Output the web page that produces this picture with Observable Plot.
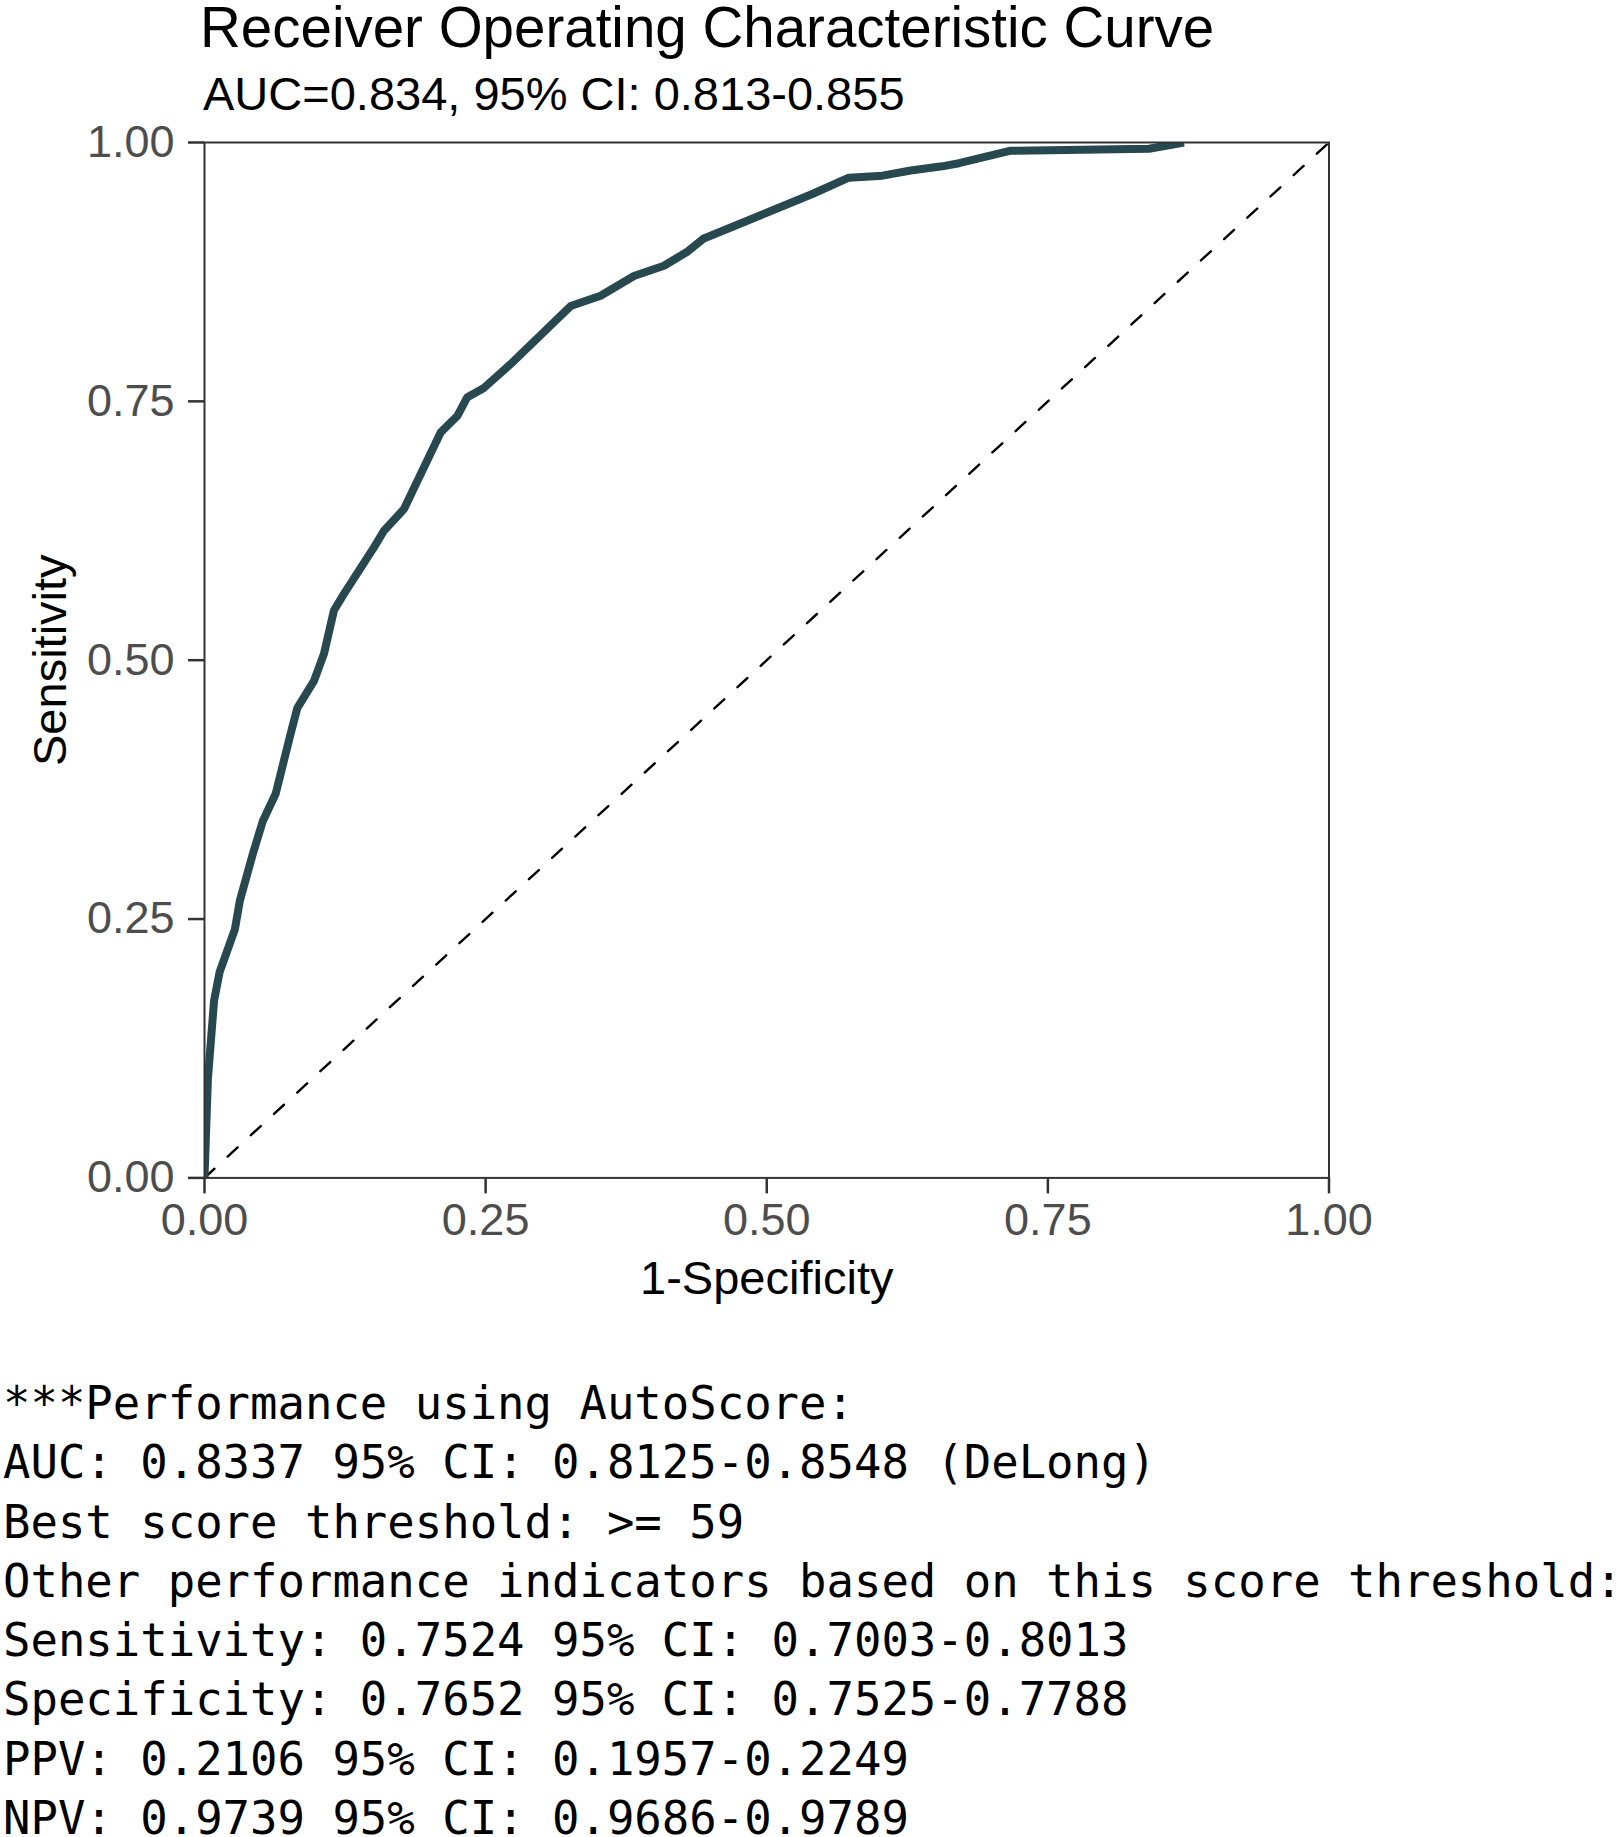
<!DOCTYPE html>
<html><head><meta charset="utf-8">
<script src="https://cdn.jsdelivr.net/npm/d3@7"></script>
<script src="https://cdn.jsdelivr.net/npm/@observablehq/plot@0.6"></script>
<style>
html,body{margin:0;padding:0;background:#fff;}
#wrap{position:relative;width:1619px;height:1837px;overflow:hidden;background:#fff;}
.t{position:absolute;font-family:"Liberation Sans",Arial,sans-serif;line-height:1.15;white-space:nowrap;color:#000;}
#title{left:200px;top:-4px;font-size:56.5px;}
#sub{left:203px;top:66.5px;font-size:47px;}
#chart{position:absolute;left:0;top:0;}
#out{position:absolute;left:3px;top:1374px;margin:0;font-family:"DejaVu Sans Mono",monospace;font-size:45.6px;line-height:59.3px;color:#000;white-space:pre;}
</style>
</head>
<body>
<div id="wrap">
  <div id="chart"></div>
  <div class="t" id="title"></div>
  <div class="t" id="sub"></div>
  <pre id="out"></pre>
</div>
<script>
const titleText = "Receiver Operating Characteristic Curve";
const subtitleText = "AUC=0.834, 95% CI: 0.813-0.855";
const xLabel = "1-Specificity";
const yLabel = "Sensitivity";
const xTicks = [0, 0.25, 0.5, 0.75, 1];
const yTicks = [0, 0.25, 0.5, 0.75, 1];
// ROC curve: 1-specificity (fpr) and sensitivity (tpr)
const fpr = [0, 0.003, 0.0085, 0.0135, 0.027, 0.0315, 0.043, 0.052, 0.0633, 0.0766, 0.0826, 0.0974, 0.1062, 0.1151, 0.124, 0.1507, 0.1596, 0.1774, 0.210, 0.2249, 0.2337, 0.2485, 0.2752, 0.3256, 0.3523, 0.3819, 0.4086, 0.430, 0.4435, 0.540, 0.573, 0.603, 0.628, 0.656, 0.671, 0.716, 0.840, 0.871];
const tpr = [0, 0.095, 0.171, 0.199, 0.240, 0.268, 0.313, 0.345, 0.371, 0.429, 0.454, 0.480, 0.506, 0.548, 0.564, 0.609, 0.625, 0.646, 0.720, 0.736, 0.754, 0.763, 0.789, 0.842, 0.852, 0.871, 0.881, 0.895, 0.907, 0.950, 0.966, 0.968, 0.973, 0.977, 0.980, 0.992, 0.994, 1.0];
const refX = [0, 1];
const refY = [0, 1];
const outputLines = [
  "***Performance using AutoScore:",
  "AUC: 0.8337 95% CI: 0.8125-0.8548 (DeLong)",
  "Best score threshold: >= 59",
  "Other performance indicators based on this score threshold:",
  "Sensitivity: 0.7524 95% CI: 0.7003-0.8013",
  "Specificity: 0.7652 95% CI: 0.7525-0.7788",
  "PPV: 0.2106 95% CI: 0.1957-0.2249",
  "NPV: 0.9739 95% CI: 0.9686-0.9789"
];

document.getElementById("title").textContent = titleText;
document.getElementById("sub").textContent = subtitleText;
document.getElementById("out").textContent = outputLines.join("\n");

const roc = fpr.map((x, i) => ({fpr: x, tpr: tpr[i]}));
const ref = refX.map((x, i) => ({x, y: refY[i]}));

const chart = Plot.plot({
  width: 1619,
  height: 1310,
  marginLeft: 204,
  marginRight: 290.5,
  marginTop: 142,
  marginBottom: 132.6,
  style: {fontFamily: '"Liberation Sans", Arial, sans-serif', fontSize: "45px", background: "transparent", overflow: "visible"},
  x: {domain: [0, 1]},
  y: {domain: [0, 1]},
  marks: [
    Plot.line(ref, {x: "x", y: "y", stroke: "#000", strokeWidth: 2.4, strokeDasharray: "13.5,18"}),
    Plot.line(roc, {x: "fpr", y: "tpr", stroke: "#26484e", strokeWidth: 8, clip: true, strokeLinejoin: "round", strokeLinecap: "butt"}),
    Plot.frame({stroke: "#333", strokeWidth: 2}),
    Plot.axisX({ticks: xTicks, tickFormat: d => d.toFixed(2), tickSize: 16, tickPadding: 9, stroke: "#333", strokeWidth: 2.5, fill: "#4d4d4d", label: null}),
    Plot.axisY({ticks: yTicks, tickFormat: d => d.toFixed(2), tickSize: 16, tickPadding: 14, stroke: "#333", strokeWidth: 2.5, fill: "#4d4d4d", label: null}),
    Plot.text([xLabel], {text: d => d, frameAnchor: "bottom", dy: 116, fontSize: 47, fill: "#000"}),
    Plot.text([yLabel], {text: d => d, frameAnchor: "left", textAnchor: "middle", rotate: -90, dx: -154, fontSize: 47, fill: "#000"})
  ]
});
document.getElementById("chart").appendChild(chart);
</script>
</body></html>
